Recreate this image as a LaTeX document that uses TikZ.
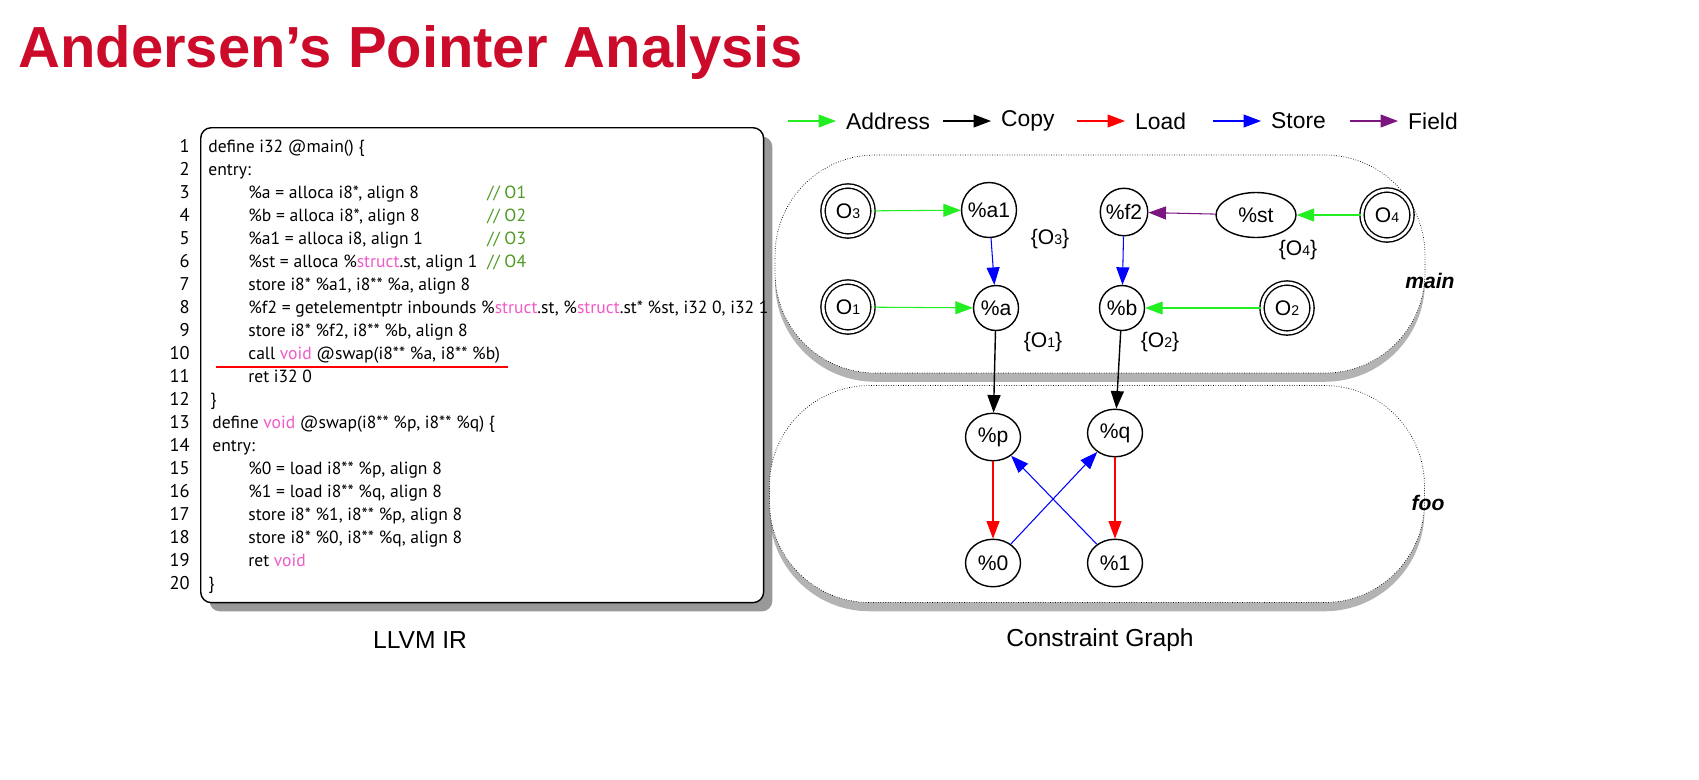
\documentclass[tikz,border=0pt]{standalone}
\usepackage{fontspec}
\setmainfont{Liberation Sans}
\newfontfamily\codefont{PT Sans}
\usetikzlibrary{arrows.meta,shadows,shapes.geometric}
\definecolor{titlered}{HTML}{CC0A2A}
\definecolor{kw}{HTML}{F05BC8}
\definecolor{cmt}{HTML}{4E9A22}
\definecolor{addr}{HTML}{22EE22}
\definecolor{fld}{HTML}{7B1680}
\newcommand{\kw}[1]{\textcolor{kw}{#1}}
\newcommand{\cmt}[1]{\textcolor{cmt}{#1}}
\newcommand{\Ob}[1]{O{\footnotesize#1}}
\tikzset{
  var/.style={draw, thick, circle, minimum size=12mm, inner sep=0pt, font=\large},
  obj/.style={draw, thick, double, double distance=1.6pt, circle, minimum size=10mm, inner sep=0pt, font=\large},
  pts/.style={font=\large},
  edge/.style={-{Triangle[length=3.5mm,width=2.6mm]}, thick},
  region/.style={draw, densely dotted, rounded corners=2cm, fill=white, drop shadow={shadow xshift=0pt, shadow yshift=-5pt, opacity=0.6}},
  line/.style={anchor=base west, font=\codefont\fontsize{10}{12}\selectfont, inner sep=0pt},
  num/.style={anchor=base east, font=\codefont\fontsize{10.5}{12}\selectfont, inner sep=0pt},
}
\begin{document}
\begin{tikzpicture}[x=0.02cm, y=-0.02cm]
\useasboundingbox (0,0) rectangle (1699,779);
% title
\node[anchor=base west, inner sep=0pt, text=titlered, font=\fontsize{33}{36}\selectfont\bfseries] (title) at (18,67) {Andersen’s Pointer Analysis};

% code box
\node[draw, thick, rounded corners=6pt, fill=white, minimum width=11.26cm, minimum height=9.5cm, anchor=north west,
  drop shadow={shadow xshift=5pt, shadow yshift=-5pt, fill=gray!80, opacity=1}] (code) at (200,127) {};
\foreach \i in {1,...,20}
  \node[num] (n\i) at (190,{147+5+(\i-1)*23.05}) {\i};
\node[line] (l1) at (208,152) {define i32 @main() \{};
\node[line] (l2) at (208,175) {entry:};
\node[line] (l3) at (248,198) {\%a = alloca i8*, align 8};
\node[line] (l4) at (248,221) {\%b = alloca i8*, align 8};
\node[line] (l5) at (248,244) {\%a1 = alloca i8, align 1};
\node[line] (l6) at (248,267) {\%st = alloca \%\kw{struct}.st, align 1};
\node[line] (c3) at (487,198) {\cmt{// O1}};
\node[line] (c4) at (487,221) {\cmt{// O2}};
\node[line] (c5) at (487,244) {\cmt{// O3}};
\node[line] (c6) at (487,267) {\cmt{// O4}};
\node[line] (l7) at (248,290) {store i8* \%a1, i8** \%a, align 8};
\node[line] (l8) at (248,313) {\%f2 = getelementptr inbounds \%\kw{struct}.st, \%\kw{struct}.st* \%st, i32 0, i32 1};
\node[line] (l9) at (248,336) {store i8* \%f2, i8** \%b, align 8};
\node[line] (l10) at (248,359) {call \kw{void} @swap(i8** \%a, i8** \%b)};
\node[line] (l11) at (248,382) {ret i32 0};
\node[line] (l12) at (210,405) {\}};
\node[line] (l13) at (212,428) {define \kw{void} @swap(i8** \%p, i8** \%q) \{};
\node[line] (l14) at (212,451) {entry:};
\node[line] (l15) at (248,474) {\%0 = load i8** \%p, align 8};
\node[line] (l16) at (248,497) {\%1 = load i8** \%q, align 8};
\node[line] (l17) at (248,520) {store i8* \%1, i8** \%p, align 8};
\node[line] (l18) at (248,543) {store i8* \%0, i8** \%q, align 8};
\node[line] (l19) at (248,566) {ret \kw{void}};
\node[line] (l20) at (208,589) {\}};
\coordinate (ul1) at (216,367);
\coordinate (ul2) at (508,367);
\draw[red, thick] (ul1) -- (ul2);

% captions
\node[font=\fontsize{14}{16}\selectfont] (cap1) at (420,640) {LLVM IR};
\node[font=\fontsize{14}{16}\selectfont] (cap2) at (1100,640) {Constraint Graph};

% legend
\foreach \x/\txt/\col [count=\k] in {788/Address/addr, 943/Copy/black, 1077/Load/red, 1213/Store/blue, 1350/Field/fld} {
  \coordinate (ls\k) at (\x,121);
  \coordinate (le\k) at (\x+48,121);
  \draw[edge, semithick, \col] (ls\k) -- (le\k);
  \node[anchor=west, font=\fontsize{13}{15}\selectfont] (lt\k) at (\x+52,121) {\txt};
}

% regions
\node[region, minimum width=13cm, minimum height=4.36cm] (main) at (1100,264) {};
\node[region, minimum width=13.1cm, minimum height=4.34cm] (foo) at (1097,494) {};
\node[font=\large\bfseries\itshape] (mainlbl) at (1430,281) {main};
\node[font=\large\bfseries\itshape] (foolbl) at (1428,503) {foo};

% nodes
\node[obj] (O3) at (848,211) {\Ob3};
\node[var, minimum size=11mm] (a1) at (989,210) {\%a1};
\node[var, minimum size=9.5mm] (f2) at (1124,212) {\%f2};
\node[var, ellipse, minimum width=16mm, minimum height=9mm] (st) at (1256,215) {\%st};
\node[obj] (O4) at (1387,215) {\Ob4};
\node[obj] (O1) at (848,307) {\Ob1};
\node[var, minimum size=9mm] (a) at (996,308) {\%a};
\node[var, minimum size=9mm] (b) at (1122,308) {\%b};
\node[obj] (O2) at (1287,308) {\Ob2};
\node[var, ellipse, minimum width=11mm, minimum height=9.5mm] (p) at (993,437) {\%p};
\node[var, ellipse, minimum width=11mm, minimum height=9.5mm] (q) at (1115,433) {\%q};
\node[var, ellipse, minimum width=11mm, minimum height=9.5mm] (x0) at (993,563) {\%0};
\node[var, ellipse, minimum width=11mm, minimum height=9.5mm] (x1) at (1115,563) {\%1};
\node[pts] (s3) at (1050,239) {\{\Ob3\}};
\node[pts] (s4) at (1298,250) {\{\Ob4\}};
\node[pts] (s1) at (1043,342) {\{\Ob1\}};
\node[pts] (s2) at (1160,342) {\{\Ob2\}};

% edges
\draw[edge, semithick, addr] (O3) -- (a1);
\draw[edge, semithick, addr] (O4) -- (st);
\draw[edge, semithick, addr] (O1) -- (a);
\draw[edge, semithick, addr] (O2) -- (b);
\draw[edge, semithick, fld] (st) -- (f2);
\draw[edge, semithick, blue] (a1) -- (a);
\draw[edge, semithick, blue] (f2) -- (b);
\draw[edge] (a) -- (p);
\draw[edge] (b) -- (q);
\draw[edge, semithick, red] (p) -- (x0);
\draw[edge, semithick, red] (q) -- (x1);
\draw[edge, semithick, blue] (x0) -- (q);
\draw[edge, semithick, blue] (x1) -- (p);
\end{tikzpicture}
\end{document}
